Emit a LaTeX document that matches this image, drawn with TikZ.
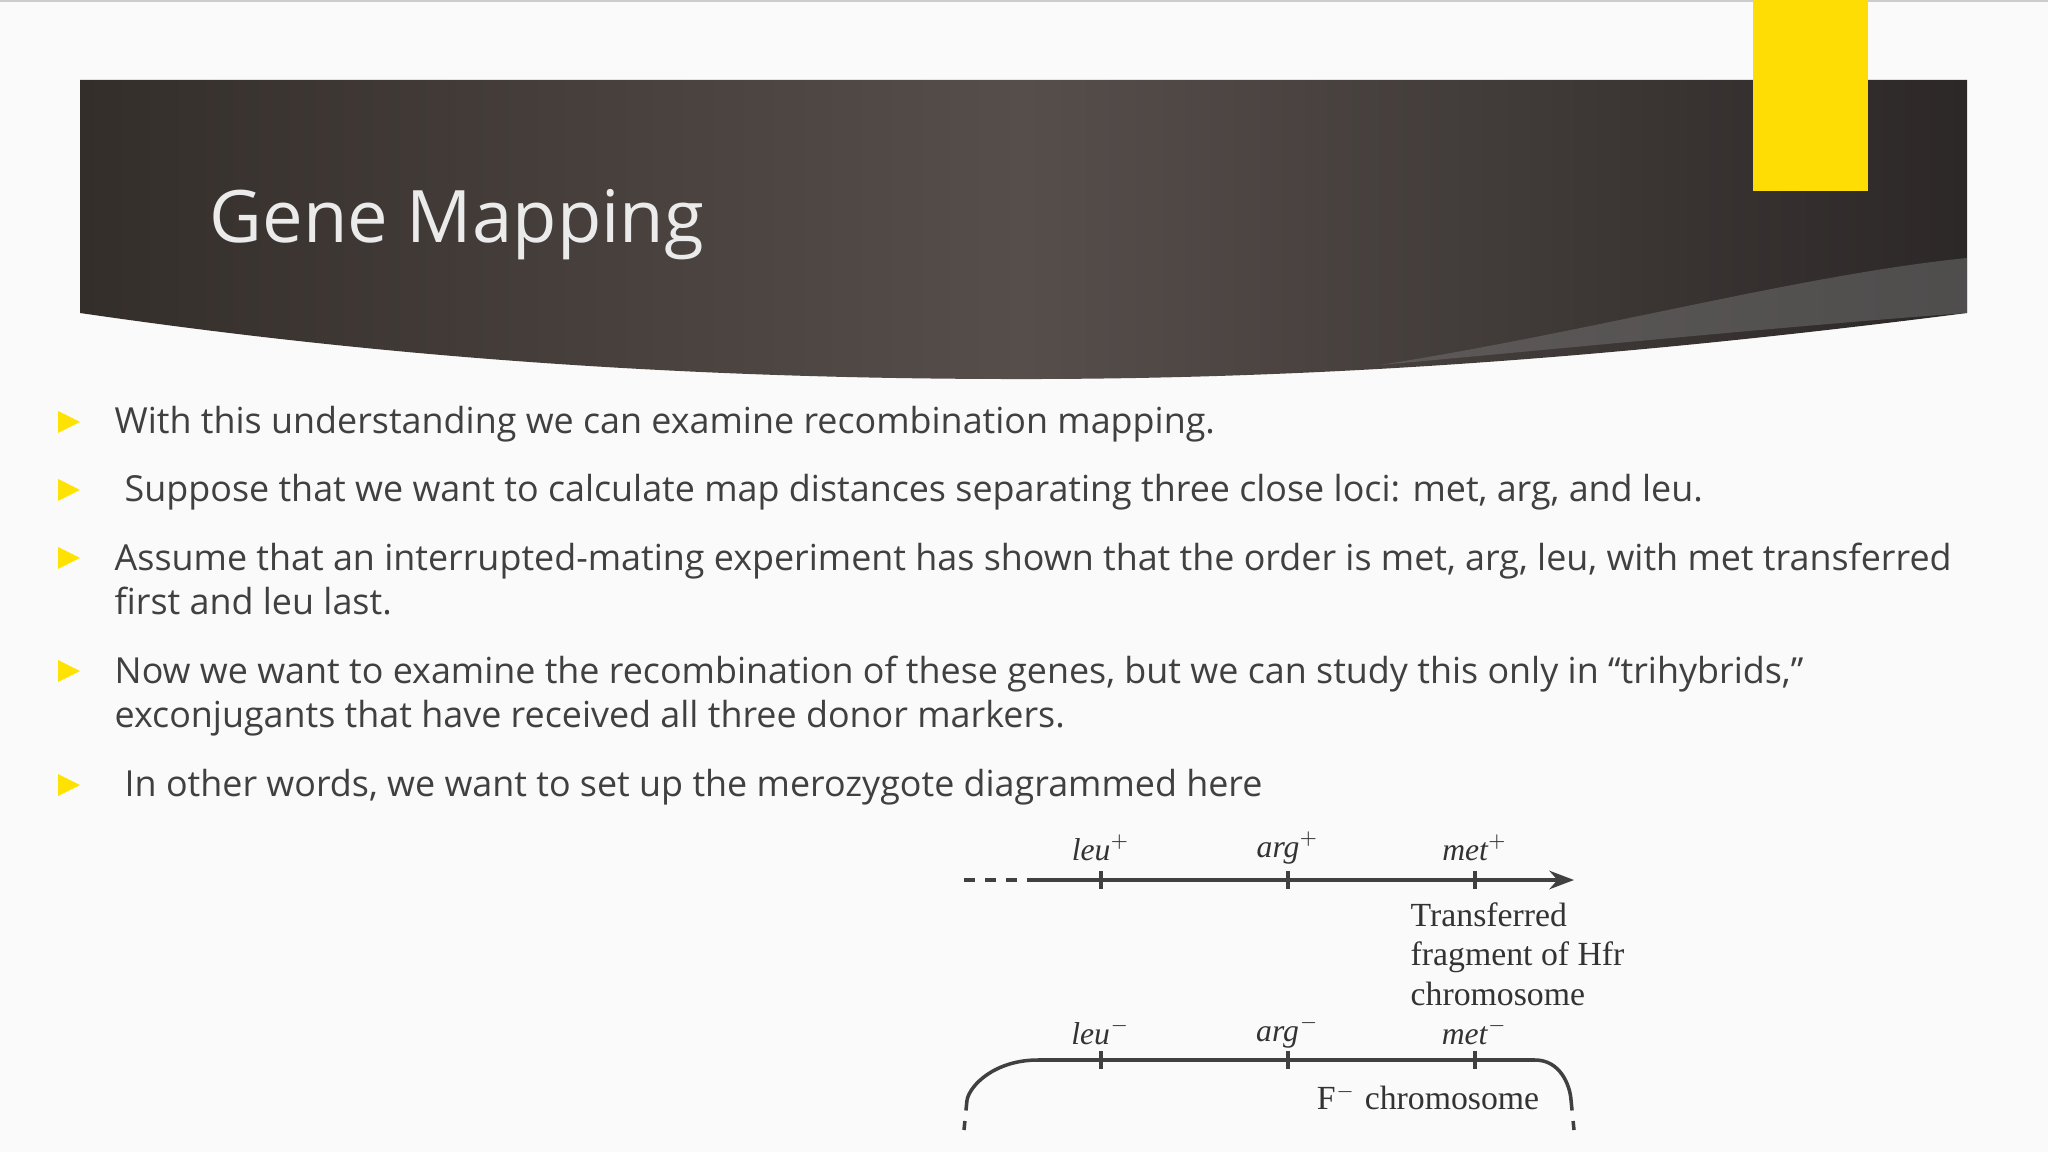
\documentclass[tikz,border=0pt]{standalone}
\usepackage{fontspec}
\usetikzlibrary{arrows.meta}
\setmainfont{Open Sans}
\newfontfamily\dser{Liberation Serif}
\definecolor{banL}{RGB}{52,46,43}
\definecolor{banM}{RGB}{86,78,75}
\definecolor{banR}{RGB}{44,40,39}
\begin{document}
\begin{tikzpicture}[x=0.01cm,y=-0.01cm,
  bul/.style={fill=yellow!85!orange},
  btxt/.style={anchor=west,font=\fontsize{10.2}{12.6}\selectfont,text=black!75,align=left,inner sep=0},
  dlab/.style={font=\dser\itshape\fontsize{9}{10}\selectfont,text=black!80},
  dtxt/.style={font=\dser\fontsize{9.6}{11.2}\selectfont,text=black!80,align=left,inner sep=0},
  chr/.style={line width=1pt,black!75}]
\useasboundingbox (0,0) rectangle (2048,1152);
\fill[black!2] (0,0) rectangle (2048,1152);
\draw[black!20] (0,1) -- (2048,1);
% banner
\shade[left color=banL, right color=banR, middle color=banM]
  (80,80) -- (1967,80) -- (1967,313) .. controls (1600,360) and (1300,380) .. (1000,379)
  .. controls (600,378) and (300,345) .. (80,313) -- cycle;
\fill[black!55,opacity=0.5] (1967,258) .. controls (1800,275) and (1600,330) .. (1380,365)
  .. controls (1600,345) and (1800,325) .. (1967,313) -- cycle;
\fill[yellow!80!orange] (1753,0) rectangle (1868,191);
\node[anchor=west,text=white!92!black,font=\fontsize{20.6}{24}\selectfont,inner sep=0] (title) at (209,225) {Gene Mapping};
% bullets
\foreach \y/\n in {422/b1,490/b2,558/b3,671/b4,785/b5}{
  \fill[bul] (58,\y-11) -- (80,\y) -- (58,\y+11) -- cycle;}
\node[btxt] (t1) at (114,424) {With this understanding we can examine recombination mapping.};
\node[btxt] (t2) at (124,492) {Suppose that we want to calculate map distances separating three close loci: met, arg, and leu.};
\node[btxt,anchor=north west] (t3) at (114,542) {Assume that an interrupted-mating experiment has shown that the order is met, arg, leu, with met transferred\\first and leu last.};
\node[btxt,anchor=north west] (t4) at (114,655) {Now we want to examine the recombination of these genes, but we can study this only in “trihybrids,”\\exconjugants that have received all three donor markers.};
\node[btxt] (t5) at (124,787) {In other words, we want to set up the merozygote diagrammed here};
% diagram
\coordinate (d0) at (964,880); \coordinate (d1) at (1038,880); \coordinate (d2) at (1574,880);
\draw[chr,dashed] (d0) -- (d1);
\draw[chr,-{Stealth[length=7pt]}] (d1) -- (d2);
\foreach \x/\g in {1101/leu,1288/arg,1475/met}{
  \draw[chr] (\x,871) -- (\x,889);
  \draw[chr] (\x,1051) -- (\x,1069);
  \node[dlab] (\g p) at (\x,848) {\g$^{\scriptscriptstyle +}$};
  \node[dlab] (\g m) at (\x,1032) {\g$^{\scriptscriptstyle -}$};}
\node[dtxt,anchor=north west] (hfr) at (1410,902) {Transferred\\fragment of Hfr\\chromosome};
\coordinate (L) at (1038,1060); \coordinate (R) at (1535,1060);
\draw[chr] (L) -- (R);
\draw[chr] (L) .. controls (995,1060) and (970,1085) .. (967,1100);
\draw[chr,dashed] (967,1100) -- (964,1130);
\draw[chr] (R) .. controls (1560,1060) and (1570,1085) .. (1571,1100);
\draw[chr,dashed] (1571,1100) -- (1574,1130);
\node[dtxt] (fm) at (1428,1097) {F$^{\scriptscriptstyle -}$ chromosome};
\end{tikzpicture}
\end{document}
